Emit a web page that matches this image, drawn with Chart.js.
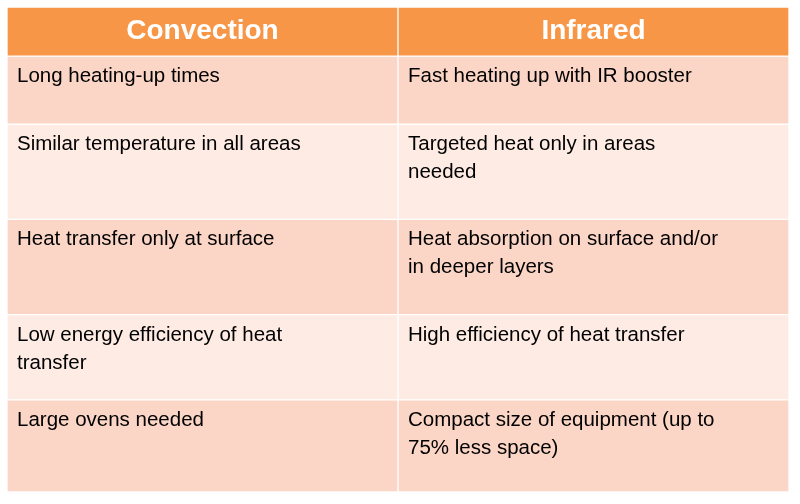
<!DOCTYPE html>
<html>
<head>
<meta charset="utf-8">
<script src="https://cdn.jsdelivr.net/npm/chart.js@4"></script>
<style>
  html, body { margin: 0; padding: 0; background: #ffffff; }
  #wrap { width: 800px; height: 504px; }
</style>
</head>
<body>
<div id="wrap"><canvas id="table" width="800" height="504"></canvas></div>
<script>
// ── Table data ─────────────────────────────────────
const columns = ['Convection', 'Infrared'];
// row boundaries (top of header ... bottom of last row), in table units
const rowEdges = [0, 49, 117, 212, 307, 392, 484];
const convection = [
    ['Long heating-up times'],
    ['Similar temperature in all areas'],
    ['Heat transfer only at surface'],
    ['Low energy efficiency of heat', 'transfer'],
    ['Large ovens needed']
];
const infrared = [
    ['Fast heating up with IR booster'],
    ['Targeted heat only in areas', 'needed'],
    ['Heat absorption on surface and/or', 'in deeper layers'],
    ['High efficiency of heat transfer'],
    ['Compact size of equipment (up to', '75% less space)']
];

const COLORS = {
    header: '#F79646',
    dark: '#FBD5C5',
    light: '#FDEBE4',
    line: '#FFFFFF'
};

// one dataset per row, each a pair of floating bars (one per column)
const datasets = [];
for (let r = 0; r < rowEdges.length - 1; r++) {
    const span = [rowEdges[r], rowEdges[r + 1]];
    const fill = r === 0 ? COLORS.header : (r % 2 === 1 ? COLORS.dark : COLORS.light);
    datasets.push({
        data: [span, span],
        backgroundColor: fill,
        borderColor: COLORS.line,
        borderWidth: 1,
        borderSkipped: false,
        grouped: false,
        barPercentage: 1,
        categoryPercentage: 1
    });
}

// ── Cell text plugin ──────────────────────────────
const cellText = {
    id: 'cellText',
    afterDatasetsDraw(chart) {
        const ctx = chart.ctx;
        ctx.save();
        chart.data.datasets.forEach((ds, r) => {
            chart.getDatasetMeta(r).data.forEach((bar, c) => {
                const top = Math.min(bar.y, bar.base);
                const bottom = Math.max(bar.y, bar.base);
                const left = bar.x - bar.width / 2;
                if (r === 0) {
                    ctx.font = "bold 28px 'Liberation Sans', Arial, sans-serif";
                    ctx.fillStyle = '#FFFFFF';
                    ctx.textAlign = 'center';
                    ctx.textBaseline = 'middle';
                    ctx.fillText(columns[c], bar.x, (top + bottom) / 2);
                } else {
                    const lines = (c === 0 ? convection : infrared)[r - 1];
                    ctx.font = "20.5px 'Liberation Sans', Arial, sans-serif";
                    ctx.fillStyle = '#000000';
                    ctx.textAlign = 'left';
                    ctx.textBaseline = 'top';
                    lines.forEach((s, i) => ctx.fillText(s, left + 10, top + 10 + i * 28));
                }
            });
        });
        ctx.restore();
    }
};

new Chart(document.getElementById('table'), {
    type: 'bar',
    data: { labels: columns, datasets },
    options: {
        responsive: false,
        animation: false,
        layout: { padding: { left: 7, top: 7, right: 11, bottom: 12 } },
        plugins: { legend: { display: false }, tooltip: { enabled: false } },
        scales: {
            x: { display: false },
            y: { display: false, reverse: true, min: 0, max: rowEdges[rowEdges.length - 1] }
        }
    },
    plugins: [cellText]
});
</script>
</body>
</html>
